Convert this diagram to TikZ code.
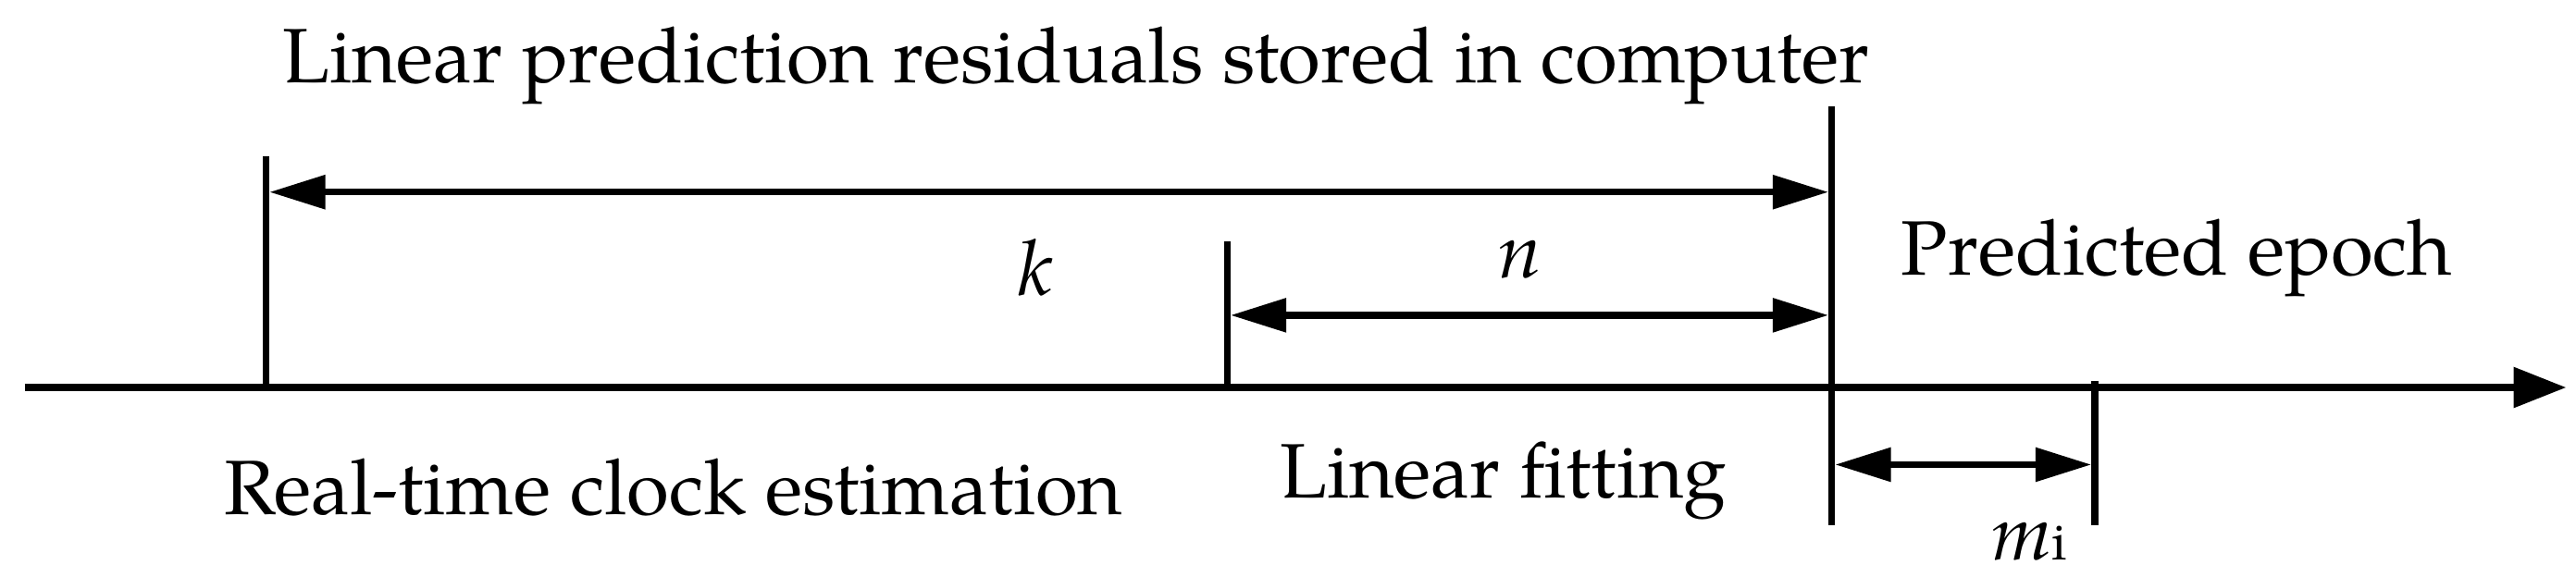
\documentclass[tikz,border=0pt]{standalone}
\usepackage{fontspec}
\setmainfont{TeX Gyre Pagella}
\usetikzlibrary{arrows.meta}
\begin{document}
\begin{tikzpicture}[x=1pt,y=-1pt,
  ln/.style={line width=4.2pt},
  dbl/.style={line width=4.2pt,{Triangle[length=34pt,width=20pt]}-{Triangle[length=34pt,width=20pt]}},
  lbl/.style={font=\fontsize{47}{56}\selectfont,inner sep=0pt}]
\useasboundingbox (0,0) rectangle (1568,351);
\coordinate (a0) at (15,236); \coordinate (a1) at (1562,236);
\draw[line width=4.2pt,-{Triangle[length=32pt,width=24pt]}] (a0) -- (a1);
\coordinate (v1t) at (162,95); \coordinate (v1b) at (162,236);
\coordinate (v2t) at (747,147); \coordinate (v2b) at (747,236);
\coordinate (v3t) at (1115,65); \coordinate (v3b) at (1115,320);
\coordinate (v4t) at (1275,232); \coordinate (v4b) at (1275,320);
\draw[ln] (v1t)--(v1b); \draw[ln] (v2t)--(v2b); \draw[ln] (v3t)--(v3b); \draw[ln] (v4t)--(v4b);
\coordinate (p1) at (164,117); \coordinate (p2) at (1113,117);
\coordinate (q1) at (749,192); \coordinate (q2) at (1113,192);
\coordinate (r1) at (1117,283); \coordinate (r2) at (1273,283);
\draw[dbl] (p1)--(p2); \draw[dbl] (q1)--(q2); \draw[dbl] (r1)--(r2);
\node[lbl] (t) at (655,40) {Linear prediction residuals stored in computer};
\node[lbl] (k) at (630,163) {\itshape k};
\node[lbl] (n) at (925,158) {\itshape n};
\node[lbl] (pe) at (1325,157) {Predicted epoch};
\node[lbl] (rt) at (410,297) {Real-time clock estimation};
\node[lbl] (lf) at (915,293) {Linear fitting};
\node[lbl] (m) at (1235,330) {\itshape m\upshape\fontsize{32}{34}\selectfont i};
\end{tikzpicture}
\end{document}
